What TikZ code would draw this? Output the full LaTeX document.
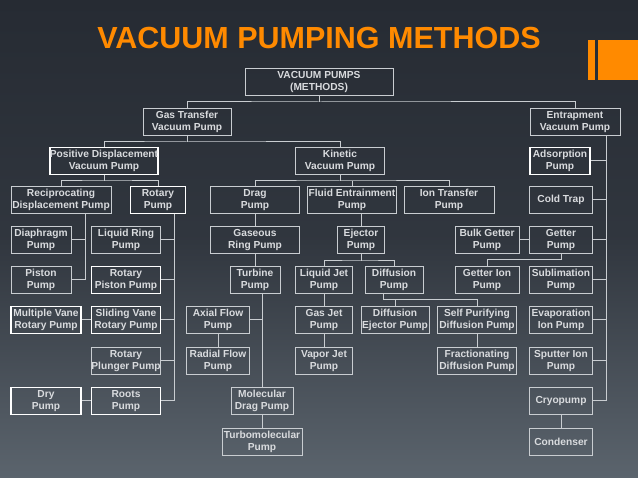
\documentclass[tikz,border=0pt]{standalone}
\usepackage{fontspec}
\setmainfont{Liberation Sans}
\usetikzlibrary{positioning}
\definecolor{bgtop}{HTML}{262B33}
\definecolor{bgbot}{HTML}{5B646D}
\definecolor{linegray}{HTML}{C9CDD1}
\definecolor{txtgray}{HTML}{D9DBDE}
\definecolor{titleorange}{HTML}{FF8A00}
\tikzset{
  pump/.style={draw=linegray, line width=0.9pt, text=txtgray, align=center,
    inner sep=0pt, minimum height=27pt,
    font=\fontsize{10.2}{12.5}\selectfont\bfseries},
  hipump/.style={pump, draw=white, line width=1.6pt},
  link/.style={draw=linegray, line width=1pt}
}
\begin{document}
\begin{tikzpicture}[x=1pt,y=-1pt]
  \shade[top color=bgtop, bottom color=bgbot, middle color=bgtop!80!bgbot] (0,0) rectangle (638,478);
  \useasboundingbox (0,0) rectangle (638,478);
  \node[text=titleorange, font=\fontsize{30.5}{33}\selectfont\bfseries] (title) at (319,38) {VACUUM PUMPING METHODS};
  \fill[titleorange] (588,40) rectangle (595,80);
  \fill[titleorange] (598,40) rectangle (638,80);

  % levels 1-3
  \node[pump, minimum width=148pt] (VP) at (319,82) {VACUUM PUMPS\\(METHODS)};
  \node[pump, minimum width=88pt] (GT) at (187,122) {Gas Transfer\\Vacuum Pump};
  \node[pump, minimum width=90pt] (EP) at (575,122) {Entrapment\\Vacuum Pump};
  \node[hipump, minimum width=108pt] (PD) at (104,161) {Positive Displacement\\Vacuum Pump};
  \node[pump, minimum width=89pt] (KV) at (340,161) {Kinetic\\Vacuum Pump};
  \node[hipump, minimum width=60pt] (AD) at (560,161) {Adsorption\\Pump};
  \node[pump, minimum width=100pt] (RD) at (61,200) {Reciprocating\\Displacement Pump};
  \node[hipump, minimum width=55pt] (RO) at (158,200) {Rotary\\Pump};
  \node[pump, minimum width=89pt] (DR) at (255,200) {Drag\\Pump};
  \node[pump, minimum width=89pt] (FE) at (352,200) {Fluid Entrainment\\Pump};
  \node[pump, minimum width=90pt] (IT) at (449,200) {Ion Transfer\\Pump};
  \node[pump, minimum width=63pt] (CT) at (561,200) {Cold Trap};

  % row 240
  \node[pump, minimum width=60pt] (DI) at (41,240) {Diaphragm\\Pump};
  \node[pump, minimum width=69pt] (LR) at (126,240) {Liquid Ring\\Pump};
  \node[pump, minimum width=89pt] (GR) at (255,240) {Gaseous\\Ring Pump};
  \node[pump, minimum width=47pt] (EJ) at (361,240) {Ejector\\Pump};
  \node[pump, minimum width=64pt] (BG) at (487,240) {Bulk Getter\\Pump};
  \node[pump, minimum width=63pt] (GE) at (561,240) {Getter\\Pump};
  % row 280
  \node[pump, minimum width=60pt] (PI) at (41,280) {Piston\\Pump};
  \node[hipump, minimum width=69pt] (RP) at (126,280) {Rotary\\Piston Pump};
  \node[pump, minimum width=50pt] (TU) at (255,280) {Turbine\\Pump};
  \node[pump, minimum width=57pt] (LJ) at (324,280) {Liquid Jet\\Pump};
  \node[pump, minimum width=58pt] (DF) at (394,280) {Diffusion\\Pump};
  \node[pump, minimum width=64pt] (GI) at (487,280) {Getter Ion\\Pump};
  \node[pump, minimum width=63pt] (SU) at (561,280) {Sublimation\\Pump};
  % row 320
  \node[hipump, minimum width=70pt] (MV) at (46,320) {Multiple Vane\\Rotary Pump};
  \node[hipump, minimum width=69pt] (SV) at (126,320) {Sliding Vane\\Rotary Pump};
  \node[pump, minimum width=63pt] (AX) at (218,320) {Axial Flow\\Pump};
  \node[pump, minimum width=57pt] (GJ) at (324,320) {Gas Jet\\Pump};
  \node[pump, minimum width=68pt] (DE) at (395,320) {Diffusion\\Ejector Pump};
  \node[pump, minimum width=79pt] (SP) at (477,320) {Self Purifying\\Diffusion Pump};
  \node[pump, minimum width=63pt] (EV) at (561,320) {Evaporation\\Ion Pump};
  % row 361
  \node[pump, minimum width=69pt] (RL) at (126,361) {Rotary\\Plunger Pump};
  \node[pump, minimum width=63pt] (RF) at (218,361) {Radial Flow\\Pump};
  \node[pump, minimum width=57pt] (VJ) at (324,361) {Vapor Jet\\Pump};
  \node[pump, minimum width=79pt] (FR) at (477,361) {Fractionating\\Diffusion Pump};
  \node[pump, minimum width=63pt] (SI) at (561,361) {Sputter Ion\\Pump};
  % row 401
  \node[hipump, minimum width=70pt] (DY) at (46,401) {Dry\\Pump};
  \node[hipump, minimum width=69pt] (RT) at (126,401) {Roots\\Pump};
  \node[pump, minimum width=62pt] (MD) at (262,401) {Molecular\\Drag Pump};
  \node[pump, minimum width=63pt] (CR) at (561,401) {Cryopump};
  % row 442
  \node[pump, minimum width=80pt] (TM) at (262,442) {Turbomolecular\\Pump};
  \node[pump, minimum width=63pt] (CO) at (561,442) {Condenser};

  % junctions
  \coordinate (j0) at (319,102);
  \coordinate (j1) at (187,142);
  \coordinate (j2) at (104,181);
  \coordinate (j3) at (340,181);
  \coordinate (j4) at (361,261);
  \coordinate (j5) at (383,300);
  \coordinate (j6) at (561,260);
  \coordinate (bE) at (606,136);
  \coordinate (bEe) at (606,401);
  \coordinate (bR) at (85,214);
  \coordinate (bRe) at (85,280);
  \coordinate (bO) at (174,214);
  \coordinate (bOe) at (174,401);
  \coordinate (bT) at (262,294);
  \coordinate (jA) at (262,320);

  \draw[link] (VP) -- (j0);
  \draw[link] (GT.north) |- (j0) -| (EP.north);
  \draw[link] (GT) -- (j1);
  \draw[link] (PD.north) |- (j1) -| (KV.north);
  \draw[link] (PD) -- (j2);
  \draw[link] (RD.north) |- (j2) -| (RO.north);
  \draw[link] (KV) -- (j3);
  \draw[link] (DR.north) |- (j3) -| (IT.north);
  \draw[link] (j3 -| FE.north) -- (FE.north);
  % entrapment bus
  \draw[link] (bE) -- (bEe) -- (CR.east);
  \foreach \n in {AD,CT,GE,SU,EV,SI}
    \draw[link] (\n.east) -- (\n.east -| bE);
  \draw[link] (CR) -- (CO);
  \draw[link] (BG) -- (GE);
  \draw[link] (GE) -- (j6) -| (GI.north);
  % reciprocating bus
  \draw[link] (bR) -- (bRe) -- (PI.east);
  \draw[link] (DI.east) -- (DI.east -| bR);
  % rotary bus
  \draw[link] (bO) -- (bOe) -- (RT.east);
  \foreach \n in {LR,RP,SV,RL}
    \draw[link] (\n.east) -- (\n.east -| bO);
  \draw[link] (MV) -- (SV);
  \draw[link] (DY) -- (RT);
  % drag branch
  \draw[link] (DR) -- (GR) -- (TU);
  \draw[link] (bT) -- (MD.north);
  \draw[link] (AX.east) -- (jA);
  \draw[link] (AX) -- (RF);
  \draw[link] (MD) -- (TM);
  % fluid entrainment branch
  \draw[link] (FE.south -| EJ) -- (EJ);
  \draw[link] (EJ) -- (j4);
  \draw[link] (LJ.north) |- (j4) -| (DF.north);
  \draw[link] (LJ) -- (GJ) -- (VJ);
  \draw[link] (DF.south -| j5) -- (j5) -| (SP.north);
  \draw[link] (j5 -| DE.north) -- (DE.north);
  \draw[link] (SP) -- (FR);
\end{tikzpicture}
\end{document}
